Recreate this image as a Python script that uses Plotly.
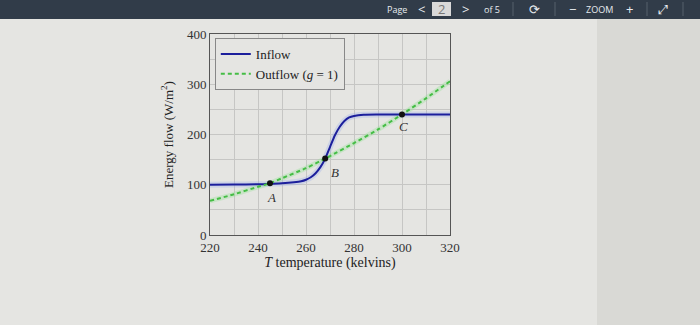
import plotly.graph_objects as go

# Temperatures (K) and energy flows (W/m^2)
inflow_T = [220, 230, 240, 245, 250, 255, 258, 260, 262, 264, 266, 268, 270,
            272, 274, 276, 278, 280, 284, 290, 300, 310, 320]
inflow_E = [100, 100.5, 101, 102, 103, 105, 107, 110, 115, 123, 135, 152, 175,
            198, 215, 227, 234, 237, 239.5, 240, 240, 240, 240]

outflow_T = [220, 230, 240, 245, 250, 260, 268, 270, 280, 290, 300, 310, 320]
outflow_E = [68, 81, 96, 103, 113, 133, 152, 157, 183, 210, 240, 272, 306]

# Equilibrium points where inflow meets outflow
eq_labels = ["A", "B", "C"]
eq_T = [245, 268, 300]
eq_E = [103, 152, 240]

serif = "Liberation Serif, DejaVu Serif, serif"
page_bg = "#e5e5e2"


def px_x(px):
    """Pixel column of the page -> paper x (plot area spans 210..450)."""
    return (px - 210) / 240


def px_y(py):
    """Pixel row of the page -> paper y (plot area spans 34..235)."""
    return (235 - py) / 201


fig = go.Figure()

# soft halos under the curves
fig.add_trace(go.Scatter(x=inflow_T, y=inflow_E, mode="lines",
                         line=dict(color="rgba(150,170,235,0.30)", width=6, shape="spline", smoothing=0.6),
                         showlegend=False, hoverinfo="skip"))
fig.add_trace(go.Scatter(x=outflow_T, y=outflow_E, mode="lines",
                         line=dict(color="rgba(150,225,150,0.35)", width=5, shape="spline", smoothing=0.6),
                         showlegend=False, hoverinfo="skip"))

fig.add_trace(go.Scatter(x=inflow_T, y=inflow_E, mode="lines", name="Inflow",
                         line=dict(color="#1c1f9c", width=2, shape="spline", smoothing=0.6)))
fig.add_trace(go.Scatter(x=outflow_T, y=outflow_E, mode="lines", name="Outflow (<i>g</i> = 1)",
                         line=dict(color="#45bd45", width=2, dash="4px,3px", shape="spline", smoothing=0.6)))

fig.add_trace(go.Scatter(x=eq_T, y=eq_E, mode="markers", showlegend=False,
                         marker=dict(color="#111111", size=6)))

label_shift = {"A": (1, -14), "B": (10, -14), "C": (1, -12)}
for lab, t, e in zip(eq_labels, eq_T, eq_E):
    dx, dy = label_shift[lab]
    fig.add_annotation(x=t, y=e, text=f"<i>{lab}</i>", showarrow=False,
                       xshift=dx, yshift=dy, font=dict(family=serif, size=13, color="#333333"))

# viewer toolbar across the top of the page, side panel on the right
fig.add_shape(type="rect", xref="paper", yref="paper",
              x0=px_x(597), x1=px_x(705), y0=px_y(330), y1=px_y(19),
              fillcolor="#d9d9d5", line_width=0, layer="below")
fig.add_shape(type="rect", xref="paper", yref="paper",
              x0=px_x(-5), x1=px_x(705), y0=px_y(19), y1=px_y(-5),
              fillcolor="#313c49", line_width=0, layer="above")
fig.add_shape(type="rect", xref="paper", yref="paper",
              x0=px_x(432), x1=px_x(451), y0=px_y(16), y1=px_y(2),
              fillcolor="#d9d9d9", line_width=0, layer="above")
for sep in [513, 555, 647, 683]:
    fig.add_shape(type="line", xref="paper", yref="paper",
                  x0=px_x(sep), x1=px_x(sep), y0=px_y(16), y1=px_y(2),
                  line=dict(color="#56616d", width=1), layer="above")

toolbar = [("Page", 397), ("<", 421), ("2", 441), (">", 465), ("of 5", 492),
           ("⟳", 534), ("−", 572), ("ZOOM", 599), ("+", 629), ("⤢", 663)]
for txt, px in toolbar:
    fig.add_annotation(xref="paper", yref="paper", x=px_x(px), y=px_y(9),
                       xanchor="center", yanchor="middle",
                       text=txt, showarrow=False,
                       font=dict(family="Open Sans, sans-serif", size=9 if len(txt) > 1 else 13,
                                 color="#777777" if txt == "2" else "#e8ecf0"))

fig.update_layout(
    width=700, height=325,
    margin=dict(l=210, r=250, t=34, b=90),
    paper_bgcolor=page_bg, plot_bgcolor=page_bg,
    font=dict(family=serif, size=13, color="#333333"),
    legend=dict(x=0.02, y=0.98, xanchor="left", yanchor="top",
                bgcolor=page_bg, bordercolor="#888888", borderwidth=1,
                font=dict(family=serif, size=13, color="#222222"),
                itemwidth=30, tracegroupgap=0),
    xaxis=dict(range=[220, 320], dtick=20, tick0=220,
               showgrid=True, gridcolor="#c6c6c4", gridwidth=1,
               minor=dict(dtick=10, showgrid=True, gridcolor="#c6c6c4"),
               showline=True, mirror=True, linecolor="#555555", linewidth=1,
               ticks="", zeroline=False, ticklabelstandoff=0,
               title=dict(text="<i>T</i> temperature (kelvins)", standoff=0,
                          font=dict(family=serif, size=14, color="#222222"))),
    yaxis=dict(range=[0, 400], dtick=100,
               showgrid=True, gridcolor="#c6c6c4", gridwidth=1,
               minor=dict(dtick=50, showgrid=True, gridcolor="#c6c6c4"),
               showline=True, mirror=True, linecolor="#555555", linewidth=1,
               ticks="", zeroline=False,
               title=dict(text="Energy flow (W/m<sup>2</sup>)", standoff=10,
                          font=dict(family=serif, size=13, color="#222222"))),
)

fig.write_html("out.html")
